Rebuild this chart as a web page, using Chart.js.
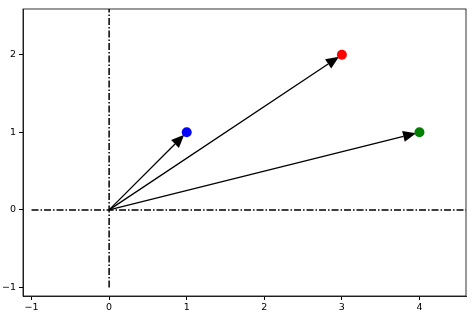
<!DOCTYPE html>
<html><head><meta charset="utf-8">
<script src="https://cdn.jsdelivr.net/npm/chart.js@4/dist/chart.umd.min.js"></script>
<style>html,body{margin:0;padding:0;background:#fff}#wrap{width:474px;height:315px}</style>
</head><body><div id="wrap"><canvas id="c" width="474" height="315"></canvas></div>
<script>
const vecX = [1, 3, 4];
const vecY = [1, 2, 1];
const vecColors = ['#0000ff', '#ff0000', '#008000'];
const xTicks = [-1, 0, 1, 2, 3, 4];
const yTicks = [-1, 0, 1, 2];
const hLine = [{x: -1, y: 0}, {x: 5, y: 0}];
const vLine = [{x: 0, y: -1}, {x: 0, y: 3}];

const arrowPlugin = {
  id: 'arrows',
  beforeDatasetsDraw(chart) {
    const {ctx, scales: {x, y}} = chart;
    const ox = x.getPixelForValue(0), oy = y.getPixelForValue(0);
    ctx.save();
    ctx.strokeStyle = '#000'; ctx.fillStyle = '#000'; ctx.lineWidth = 1.3;
    for (let i = 0; i < vecX.length; i++) {
      const px = x.getPixelForValue(vecX[i]), py = y.getPixelForValue(vecY[i]);
      const dx = px - ox, dy = py - oy, L = Math.hypot(dx, dy);
      const ux = dx / L, uy = dy / L;
      const tx = px - ux * 3.5, ty = py - uy * 3.5;
      const hl = 13, hw = 5.5;
      const bx = tx - ux * hl, by = ty - uy * hl;
      ctx.beginPath(); ctx.moveTo(ox, oy); ctx.lineTo(bx, by); ctx.stroke();
      ctx.beginPath();
      ctx.moveTo(tx, ty);
      ctx.lineTo(bx - uy * hw, by + ux * hw);
      ctx.lineTo(bx + uy * hw, by - ux * hw);
      ctx.closePath(); ctx.fill();
    }
    ctx.restore();
  },
  afterDraw(chart) {
    const {ctx, chartArea: a} = chart;
    ctx.save(); ctx.strokeStyle = '#000'; ctx.lineWidth = 0.8;
    ctx.strokeRect(a.left, a.top, a.right - a.left, a.bottom - a.top);
    ctx.restore();
  }
};

const fmt = v => (v < 0 ? '\u2212' + Math.abs(v) : String(v));

new Chart(document.getElementById('c'), {
  type: 'scatter',
  data: {
    datasets: [
      {type: 'line', data: hLine, borderColor: '#000', borderWidth: 1.5, borderDash: [7, 2, 1.5, 2], pointRadius: 0, fill: false},
      {type: 'line', data: vLine, borderColor: '#000', borderWidth: 1.5, borderDash: [7, 2, 1.5, 2], pointRadius: 0, fill: false},
      {data: vecX.map((v, i) => ({x: v, y: vecY[i]})), pointBackgroundColor: vecColors, pointBorderColor: vecColors, pointRadius: 5, pointBorderWidth: 0}
    ]
  },
  options: {
    responsive: false, animation: false,
    layout: {padding: {top: 9, right: 8, left: 0, bottom: 0}},
    plugins: {legend: {display: false}, tooltip: {enabled: false}},
    scales: {
      x: {
        type: 'linear', min: -1.11, max: 4.6,
        afterBuildTicks: s => { s.ticks = xTicks.map(v => ({value: v})); },
        afterFit: s => { s.height = 19; },
        grid: {drawOnChartArea: false, tickLength: 4, tickColor: '#000'},
        border: {color: '#000', width: 0.8},
        ticks: {color: '#000', font: {family: 'DejaVu Sans', size: 9.5}, padding: 2, callback: fmt, maxRotation: 0}
      },
      y: {
        type: 'linear', min: -1.11, max: 2.59,
        afterBuildTicks: s => { s.ticks = yTicks.map(v => ({value: v})); },
        afterFit: s => { s.width = 23; },
        grid: {drawOnChartArea: false, tickLength: 4, tickColor: '#000'},
        border: {color: '#000', width: 0.8},
        ticks: {color: '#000', font: {family: 'DejaVu Sans', size: 9.5}, padding: 3, callback: fmt}
      }
    }
  },
  plugins: [arrowPlugin]
});
</script></body></html>
